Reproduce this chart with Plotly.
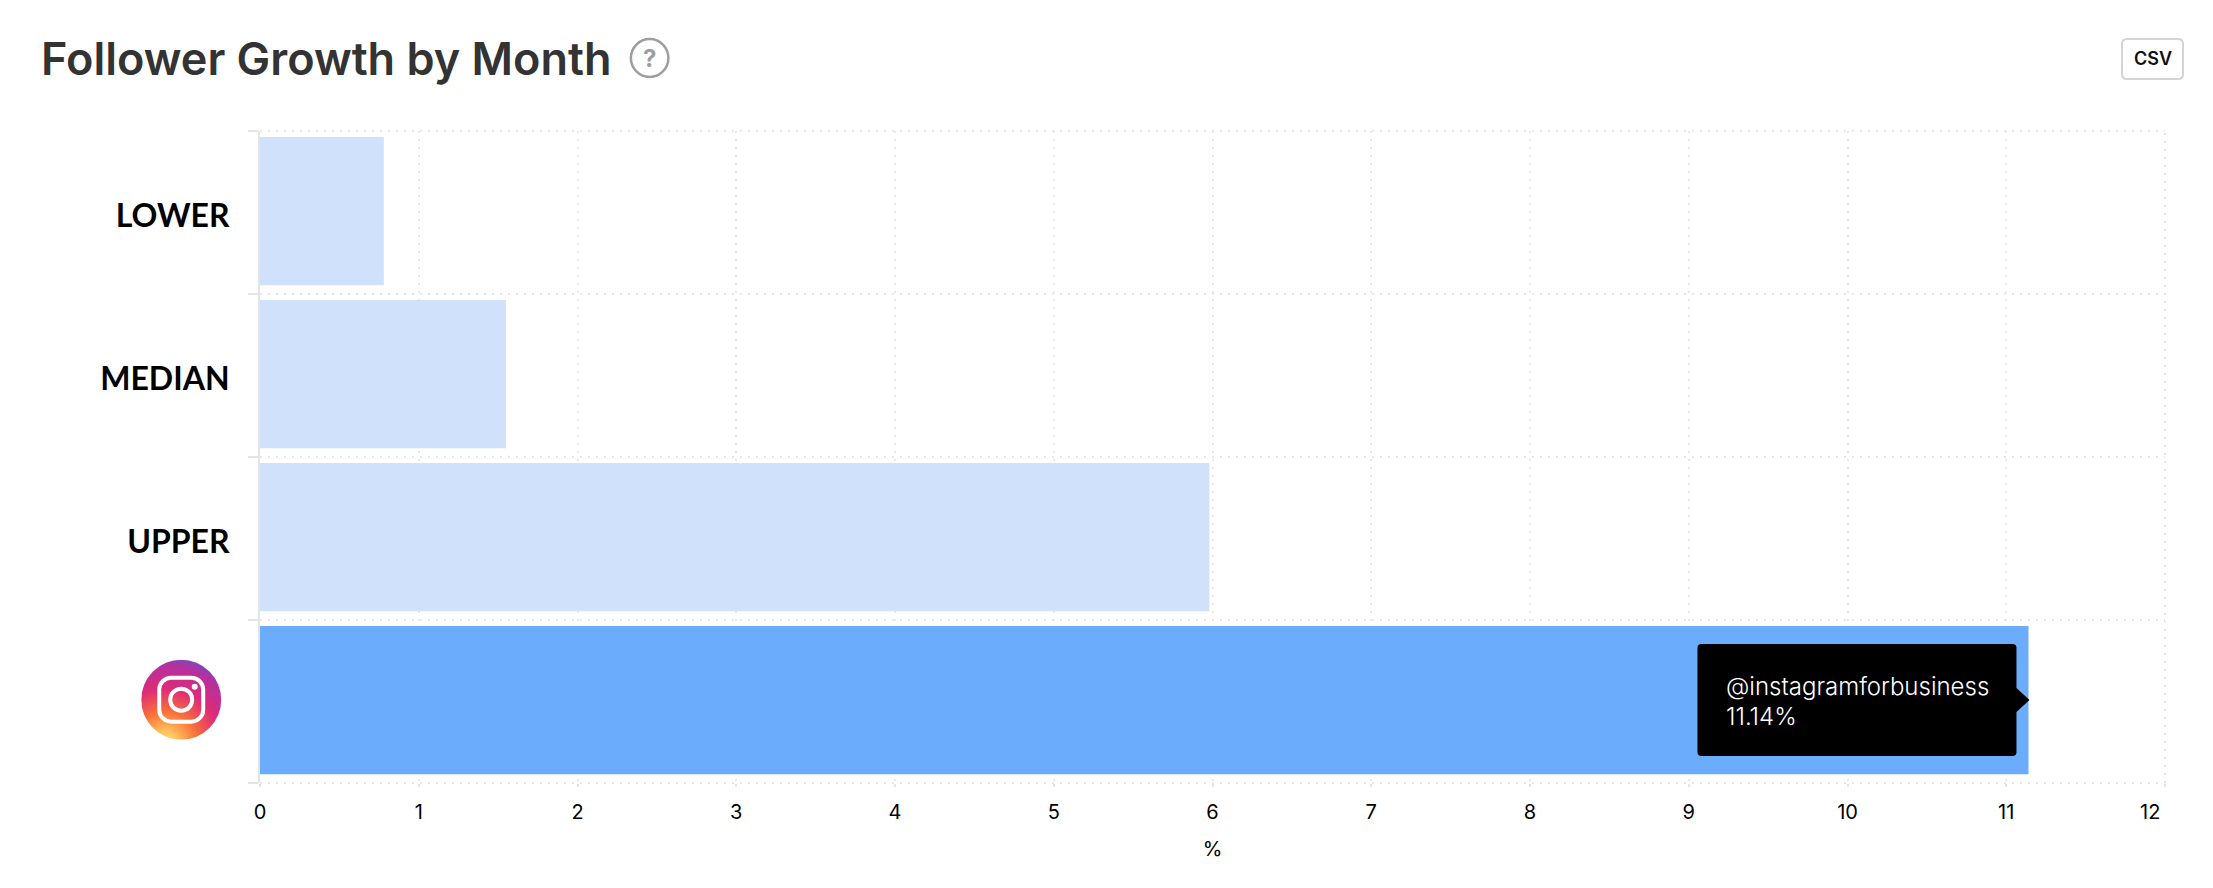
import base64
import plotly.graph_objects as go

W, H = 2213, 888
M_L, M_R, M_T, M_B = 259.5, 48, 131, 105

# bottom to top on the y axis
rows = ["@instagramforbusiness", "UPPER", "MEDIAN", "LOWER"]
row_labels = ["", "UPPER", "MEDIAN", "LOWER"]
growth = [11.14, 5.98, 1.55, 0.78]
bar_colors = ["#6CACFC", "#D0E1FC", "#D0E1FC", "#D0E1FC"]
x_ticks = list(range(13))
x_labels = [str(t) for t in x_ticks[:-1]] + [""]  # 12 is pulled in, see annotation

FONT = "Inter"
GRID = "#E8E8E8"
DOTS = "2px,6px"


# page pixels to paper coordinates (paper is the plot area)
def px(x):
    return (x - M_L) / (W - M_L - M_R)


def py(y):
    return 1 - (y - M_T) / (H - M_T - M_B)


# instagram logo as a small svg
ig_svg = """<svg xmlns="http://www.w3.org/2000/svg" viewBox="0 0 80 80">
<defs>
<radialGradient id="a" cx="0.3" cy="1.05" r="1.15">
<stop offset="0" stop-color="#FFDD80"/><stop offset="0.12" stop-color="#FFC860"/>
<stop offset="0.35" stop-color="#F9703A"/><stop offset="0.6" stop-color="#DE2B77"/>
<stop offset="0.85" stop-color="#B5309F"/><stop offset="1" stop-color="#5E57C4"/>
</radialGradient>
</defs>
<circle cx="40" cy="40" r="40" fill="url(#a)"/>
<rect x="18" y="18" width="44" height="44" rx="12" fill="none" stroke="#fff" stroke-width="4"/>
<circle cx="40" cy="40" r="11" fill="none" stroke="#fff" stroke-width="4"/>
<circle cx="53.5" cy="27" r="3" fill="#fff"/>
</svg>"""
ig_uri = "data:image/svg+xml;base64," + base64.b64encode(ig_svg.encode()).decode()

fig = go.Figure(
    go.Bar(
        x=growth,
        y=rows,
        orientation="h",
        width=0.91,
        offset=-0.447,
        marker=dict(color=bar_colors, line=dict(width=0)),
        hoverinfo="skip",
    )
)

fig.update_layout(
    width=W,
    height=H,
    autosize=False,
    paper_bgcolor="#FFFFFF",
    plot_bgcolor="#FFFFFF",
    margin=dict(l=M_L, r=M_R, t=M_T, b=M_B, pad=0),
    showlegend=False,
    font=dict(family=FONT, color="#000000"),
)

fig.update_xaxes(
    range=[0, 12],
    tickmode="array",
    tickvals=x_ticks,
    ticktext=x_labels,
    ticks="outside",
    ticklen=3,
    tickcolor="#E4E4E4",
    tickwidth=2,
    ticklabelstandoff=8,
    tickfont=dict(family=FONT, size=20, color="#000000"),
    showgrid=True,
    gridcolor=GRID,
    gridwidth=2,
    griddash=DOTS,
    zeroline=False,
    showline=False,
    title=dict(text="%", font=dict(family=FONT, size=20, color="#000000"), standoff=18),
)

fig.update_yaxes(
    type="category",
    categoryorder="array",
    categoryarray=rows,
    range=[-0.5, 3.5],
    tickmode="array",
    tickvals=rows,
    ticktext=row_labels,
    tickson="boundaries",
    ticks="outside",
    ticklen=10,
    tickcolor="#E4E4E4",
    tickwidth=2,
    ticklabelstandoff=22,
    ticklabelshift=3,
    tickfont=dict(family="Lato", size=32, color="#000000", weight=700),
    showgrid=True,
    gridcolor=GRID,
    gridwidth=2,
    griddash=DOTS,
    zeroline=False,
    showline=True,
    linecolor="#E4E4E4",
    linewidth=2,
)

# the grid skips the plot edges, so close the frame by hand
for x0, y0, x1, y1 in [(0, 1, 1, 1), (0, 0, 1, 0), (1, 0, 1, 1)]:
    fig.add_shape(type="line", xref="paper", yref="paper", x0=x0, y0=y0, x1=x1, y1=y1,
                  line=dict(color=GRID, width=2, dash=DOTS), layer="below")

# logo instead of a tick label on the account row
fig.add_layout_image(
    source=ig_uri,
    xref="paper",
    yref="paper",
    x=px(180.7),
    y=py(699.7),
    sizex=80 / (W - M_L - M_R),
    sizey=80 / (H - M_T - M_B),
    xanchor="center",
    yanchor="middle",
    sizing="stretch",
    layer="above",
)

# header: help icon and csv button
fig.add_shape(type="circle", xref="paper", yref="paper", x0=px(630.5), x1=px(668), y0=py(39), y1=py(77),
              line=dict(color="#9E9E9E", width=2.5), fillcolor="rgba(0,0,0,0)")
fig.add_shape(type="path", xref="paper", yref="paper", xsizemode="pixel", ysizemode="pixel",
              xanchor=px(2122), yanchor=py(39),
              path="M 5 0 L 56 0 Q 61 0 61 -5 L 61 -35 Q 61 -40 56 -40 L 5 -40 Q 0 -40 0 -35 L 0 -5 Q 0 0 5 0 Z",
              line=dict(color="#D4D4D4", width=2), fillcolor="#FFFFFF")

# tooltip pinned to the end of the account bar
fig.add_shape(type="path", xref="paper", yref="paper", xsizemode="pixel", ysizemode="pixel",
              xanchor=px(M_L + growth[0] * (W - M_L - M_R) / 12), yanchor=py(700),
              path=("M -327 56 L -16 56 Q -12 56 -12 52 L -12 12 L 1 0 L -12 -12 L -12 -52 Q -12 -56 -16 -56 "
                    "L -327 -56 Q -331 -56 -331 -52 L -331 52 Q -331 56 -327 56 Z"),
              line=dict(width=0), fillcolor="#000000", layer="above")

annotations = [
    dict(text="Follower Growth by Month", x=px(39), y=py(58), xanchor="left", yanchor="middle",
         font=dict(family=FONT, size=45, color="#333333", weight=600)),
    dict(text="?", x=px(649.5), y=py(58), xanchor="center", yanchor="middle",
         font=dict(family=FONT, size=24, color="#9E9E9E", weight=700)),
    dict(text="CSV", x=px(2152.5), y=py(59), xanchor="center", yanchor="middle",
         font=dict(family=FONT, size=18, color="#111111", weight=600)),
    dict(text="12", x=px(2150), y=py(812), xanchor="center", yanchor="middle",
         font=dict(family=FONT, size=20, color="#000000")),
    dict(text=rows[0], x=px(1725), y=py(686), xanchor="left", yanchor="middle",
         font=dict(family=FONT, size=24, color="#FFFFFF", weight=300)),
    dict(text=f"{growth[0]:.2f}%", x=px(1725), y=py(716), xanchor="left", yanchor="middle",
         font=dict(family=FONT, size=24, color="#FFFFFF", weight=300)),
]
for a in annotations:
    fig.add_annotation(xref="paper", yref="paper", showarrow=False, borderpad=0, **a)

fig.write_html("out.html", config=dict(displayModeBar=False),
               post_script="document.body.style.margin='0';document.body.style.overflow='hidden';")
